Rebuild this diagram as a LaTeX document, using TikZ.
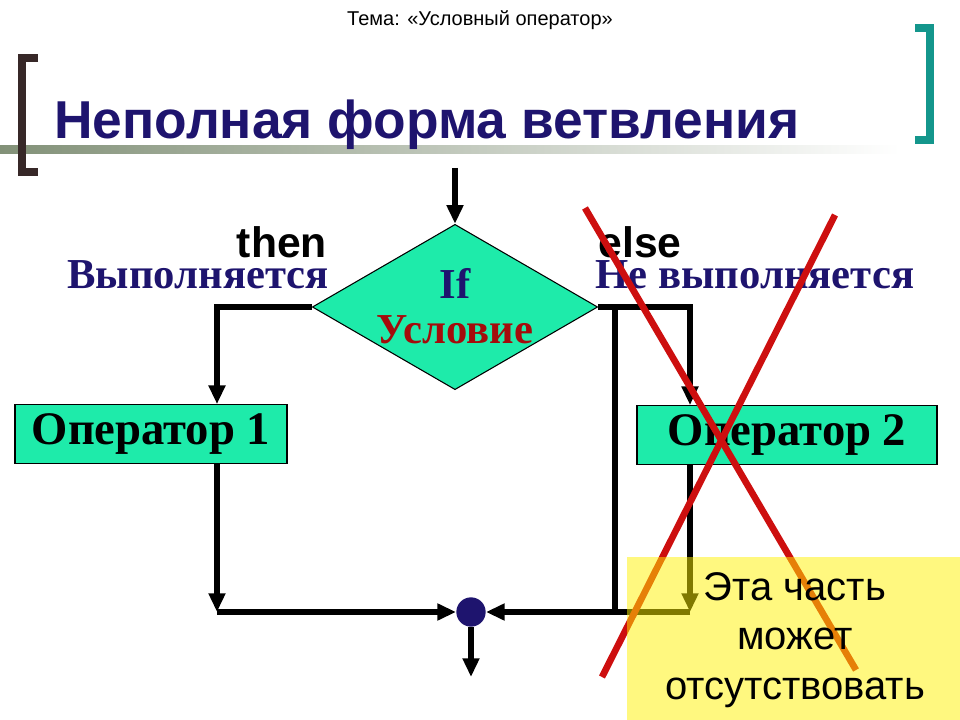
\documentclass[tikz,border=0pt]{standalone}
\usepackage{fontspec}
\setmainfont{Liberation Serif}
\setsansfont{Liberation Sans}
\usetikzlibrary{shapes.geometric,positioning,arrows.meta}

\definecolor{navy}{RGB}{30,20,110}
\definecolor{boxgreen}{RGB}{30,235,170}
\definecolor{crossred}{RGB}{205,15,15}
\definecolor{bracketbrown}{RGB}{55,40,40}
\definecolor{bracketteal}{RGB}{20,150,140}
\definecolor{barolive}{RGB}{130,145,120}

\tikzset{
  flow/.style={line width=3.8pt, -{Triangle[length=14pt,width=12pt]}},
  plain/.style={line width=3.8pt},
  opbox/.style={draw, line width=0.8pt, fill=boxgreen, minimum width=204pt, minimum height=44pt,
    font=\fontsize{35}{38}\selectfont\bfseries},
  branch/.style={font=\fontsize{32}{36}\selectfont\bfseries, text=navy},
  keyword/.style={font=\sffamily\fontsize{32}{36}\selectfont\bfseries}
}

\begin{document}
\begin{tikzpicture}[x=0.75pt,y=-0.75pt]
    \useasboundingbox (0,0) rectangle (960,720);

    % Header
    \node (topic) at (480,20) {\sffamily\fontsize{15}{17}\selectfont Тема: «Условный оператор»};
    \shade[left color=barolive, right color=white] (0,146) rectangle (900,154);
    \draw[bracketbrown, line width=6pt] (38,58) -- (22,58) -- (22,172) -- (38,172);
    \draw[bracketteal, line width=6pt] (915,28) -- (930,28) -- (930,140) -- (915,140);
    \node[text=navy] (title) at (427,125) {\sffamily\fontsize{40}{44}\selectfont\bfseries Неполная форма ветвления};

    % Condition
    \node[diamond, draw, line width=0.8pt, fill=boxgreen, aspect=1.73, minimum width=214pt,
          minimum height=124pt, inner sep=0pt] (cond) at (455,307) {};
    \coordinate (start) at (455,168);
    \draw[flow] (start) -- (cond.north);
    \node[font=\fontsize{32}{36}\selectfont\bfseries, text=navy] (if) at (455,283) {If};
    \node[font=\fontsize{32}{36}\selectfont\bfseries, text=crossred!80!black] (condtext) at (455,330) {Условие};

    \node[keyword] (then) at (282,242) {then};
    \node[keyword] (else) at (640,242) {else};
    \node[branch] (yes) at (198,275) {Выполняется};
    \node[branch] (no) at (755,275) {Не выполняется};

    % Operators
    \node[opbox] (op1) at (151,434) {Оператор 1};
    \node[opbox, minimum width=225pt] (op2) at (787,435) {Оператор 2};
    \node[circle, fill=navy, minimum size=22pt, inner sep=0pt] (join) at (471,612) {};

    % Branches
    \coordinate (l1) at (217,307);
    \coordinate (l2) at (217,612);
    \coordinate (r1) at (690,307);
    \coordinate (r2) at (690,612);
    \coordinate (s1) at (615,307);
    \coordinate (s2) at (615,612);
    \coordinate (finish) at (471,677);
    \draw[flow] (cond.west) -- (l1) -- (op1.north -| l1);
    \draw[flow] (op1.south -| l1) -- (l2);
    \draw[flow] (l2) -- (join);
    \draw[flow] (cond.east) -- (r1) -- (op2.north -| r1);
    \draw[flow] (op2.south -| r1) -- (r2);
    \draw[plain] (r2) -- (s2);
    \draw[plain] (cond.east -| s1) -- (s2);
    \draw[flow] (s2) -- (join);
    \draw[flow] (join) -- (finish);

    % Cross
    \draw[crossred, line width=5pt] (585,208) -- (856,670);
    \draw[crossred, line width=5pt] (835,215) -- (602,677);

    % Note
    \fill[yellow, opacity=0.5] (627,557) rectangle (960,720);
    \node[align=center, font=\sffamily\fontsize{30}{37}\selectfont] (note) at (795,640)
         {Эта часть\\может\\отсутствовать};
\end{tikzpicture}
\end{document}
